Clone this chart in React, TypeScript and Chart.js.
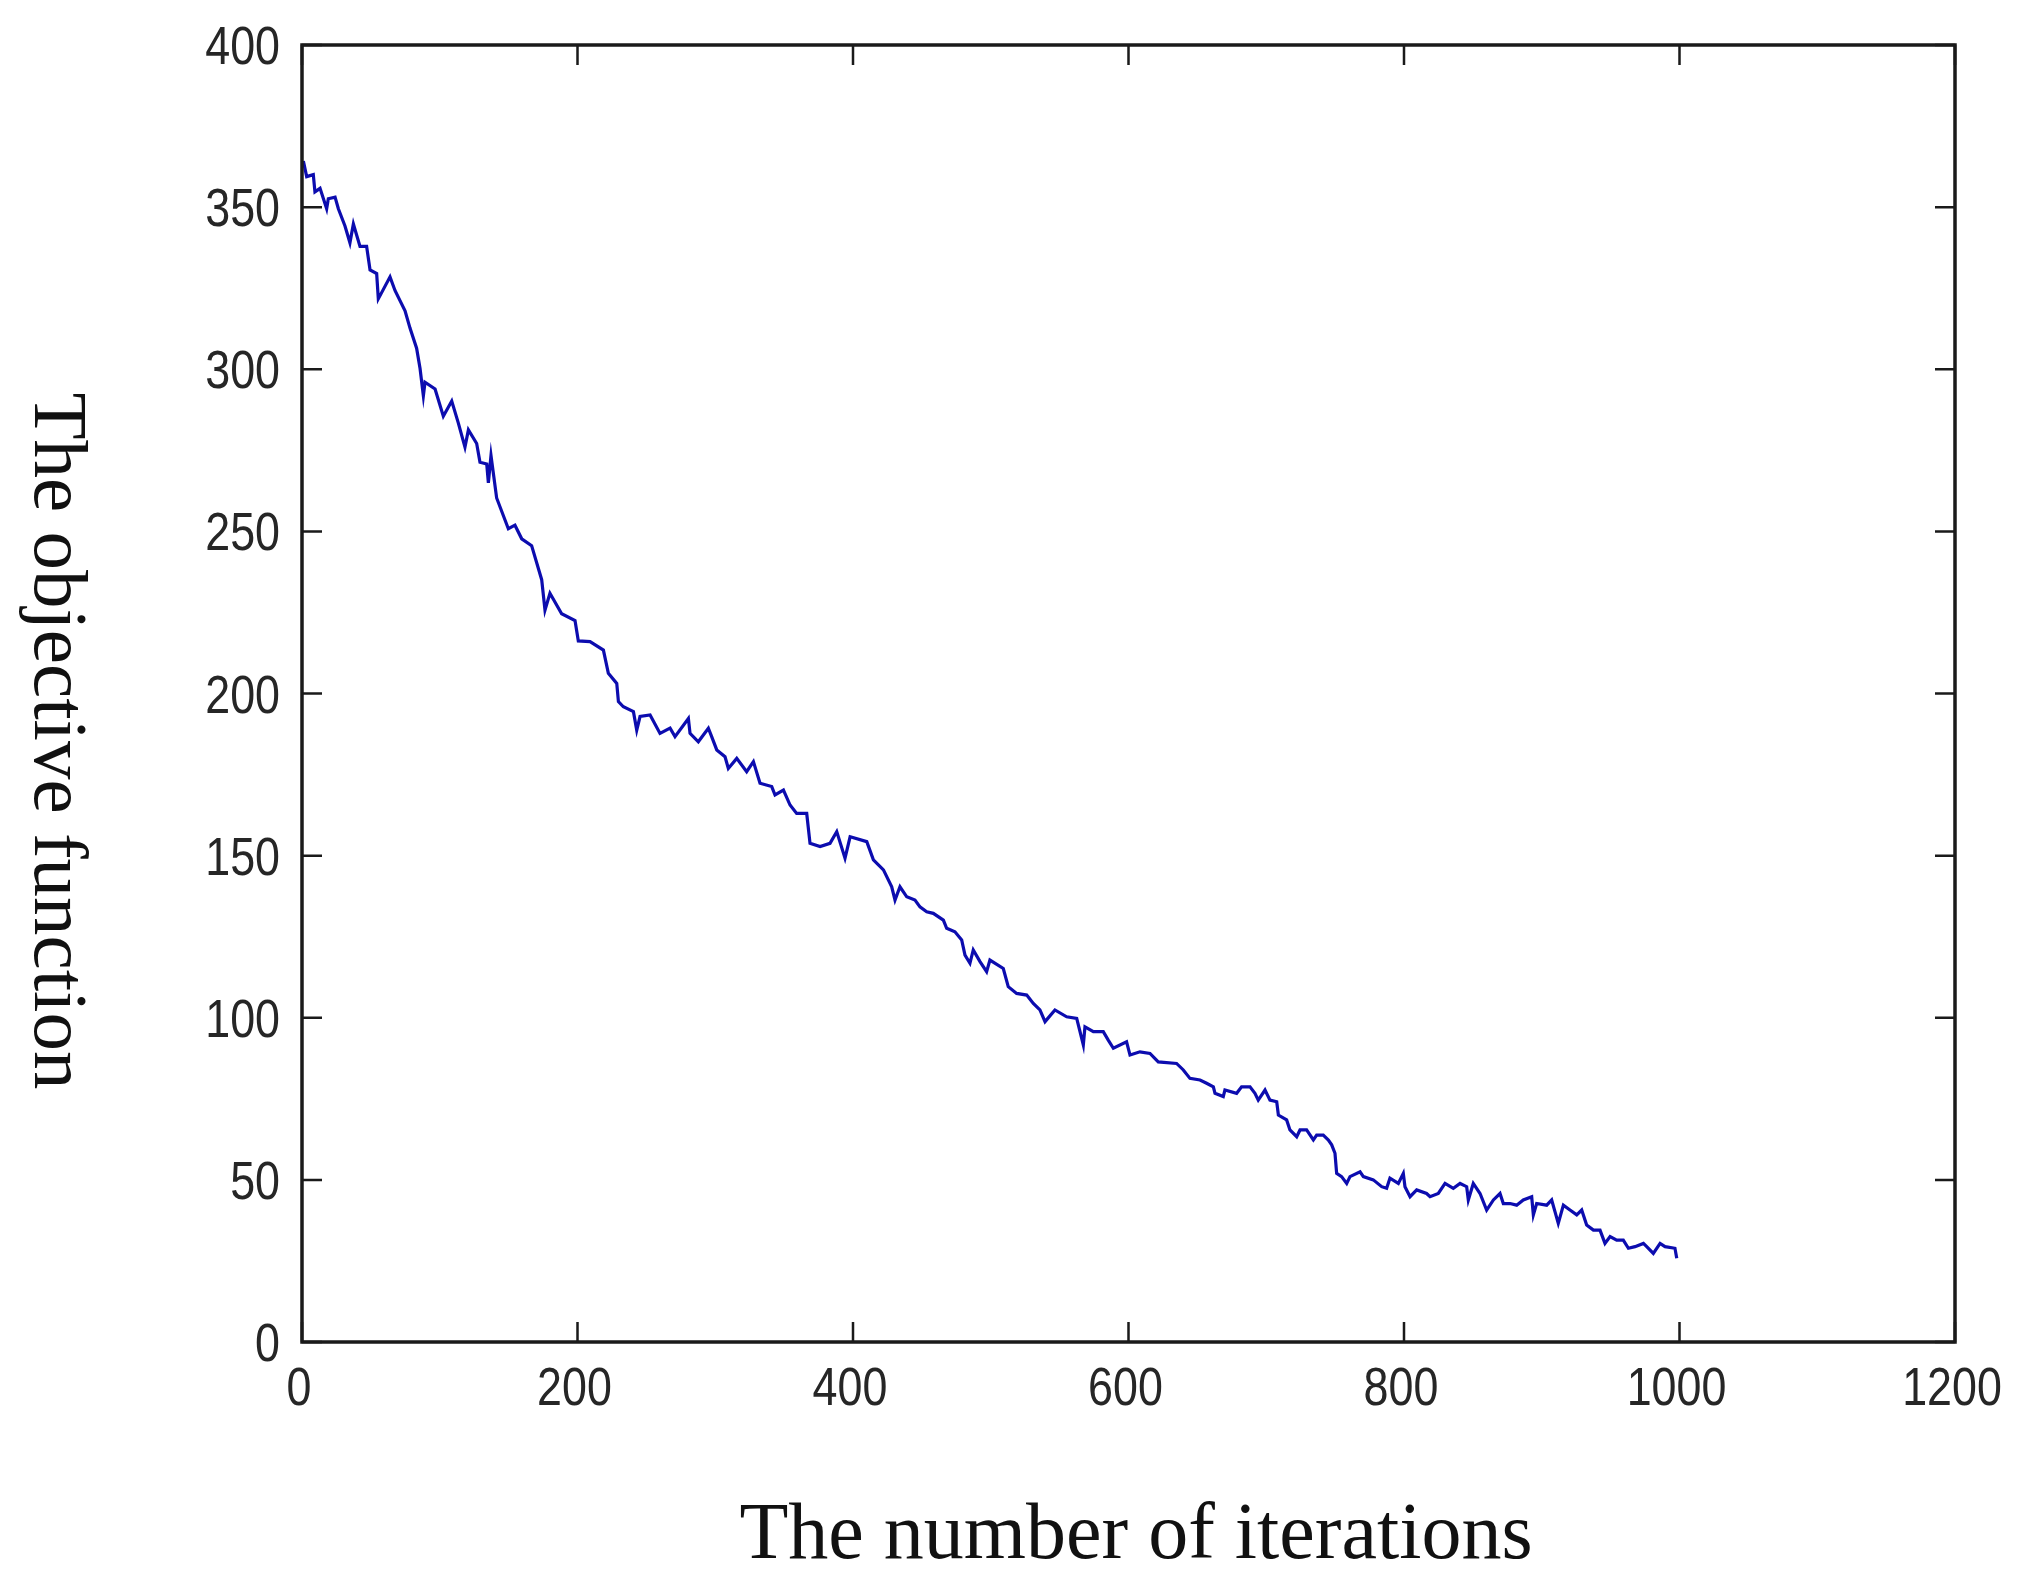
import React, { useEffect, useRef } from "react";
import { Chart, registerables } from "chart.js";

Chart.register(...registerables);

const iterations = [
  1.0, 3.4, 8.2, 9.4, 13.1, 17.9, 19.1, 24.0, 26.4, 31.2, 34.8, 37.3, 42.1, 46.9, 49.4, 54.2, 55.4, 63.9, 67.5, 74.8,
  78.4, 83.2, 85.7, 88.1, 89.3, 96.6, 102.6, 108.7, 113.5, 118.3, 120.8, 126.8, 129.2, 134.1, 135.3, 137.2, 141.3, 149.8,
  154.6, 159.5, 166.7, 174.0, 176.4, 180.0, 188.5, 198.2, 200.6,
  209.1, 218.8, 222.4, 228.5, 229.7, 233.3, 240.6, 243.0, 245.4, 252.7, 259.9, 267.2, 270.8, 280.5, 281.7, 287.7, 295.0,
  297.4, 301.1, 307.1, 309.5, 315.6, 322.8, 327.7, 332.5, 341.0, 343.4, 349.5, 354.3, 359.1, 366.4, 368.8, 376.1, 383.3,
  388.2, 394.2, 397.9, 410.0, 414.8, 422.1, 428.1, 430.5,
  434.1, 439.0, 445.0, 448.6, 453.5, 458.3, 465.6, 468.0, 474.0, 478.9, 481.3, 484.9, 487.3, 492.2, 497.0, 499.4, 509.1,
  512.7, 518.8, 526.1, 530.9, 535.7, 539.4, 546.6, 555.1, 562.4, 567.2, 568.4, 574.5, 581.7, 585.3, 589.0, 598.6, 601.1,
  608.3, 615.6, 621.6, 634.9, 639.8, 644.6,
  651.9, 656.7, 661.6, 662.8, 668.8, 670.0, 678.5, 682.1, 688.2, 691.8, 694.2, 699.1, 702.7, 707.6, 708.8, 714.8, 717.2,
  722.1, 724.5, 729.3, 734.2, 736.6, 741.4, 745.1, 747.5, 749.9, 751.1, 754.7, 758.4, 760.8, 768.1, 770.5, 777.7, 783.8,
  787.4, 789.8, 795.9, 799.5, 800.7, 804.4, 809.2, 816.4, 818.9, 824.9, 829.8, 835.8, 840.7, 845.5, 846.7, 850.3, 855.2,
  860.0, 864.9,
  869.7, 872.1, 877.0, 881.8, 886.6, 892.7, 893.9, 896.3, 903.6, 907.2, 909.6, 912.0, 915.7, 920.5, 925.4, 929.0, 932.6,
  937.5, 942.3, 945.9, 949.6, 954.4, 959.2, 962.9, 967.7, 973.8, 976.2, 981.0, 985.9, 989.5, 996.7, 998.0,
];

const objective = [
  364.2, 359.4, 360.0, 354.7, 355.8, 349.5, 352.6, 353.1, 349.5, 344.2, 339.0, 344.8, 337.9, 337.9, 330.6, 329.5, 321.7,
  328.5, 324.3, 318.0, 312.7, 306.5, 300.2, 291.8, 296.0, 293.9, 285.5, 290.2, 283.4, 276.0, 281.3, 277.1, 271.3, 270.8,
  265.0, 273.4, 260.3, 250.8, 251.9, 247.7, 245.6, 235.1, 225.7, 230.9, 224.6, 222.5, 216.2,
  216.0, 213.4, 206.2, 203.1, 197.5, 195.9, 194.4, 188.7, 192.9, 193.4, 187.7, 189.3, 186.7, 192.3, 187.7, 185.1, 189.3,
  186.7, 182.6, 180.5, 176.9, 180.0, 175.9, 179.0, 172.3, 171.3, 168.7, 170.2, 165.6, 163.0, 163.0, 153.8, 152.8, 153.8,
  157.4, 149.2, 155.8, 154.3, 148.7, 145.6, 140.4, 136.3,
  140.4, 137.3, 136.3, 134.2, 132.7, 132.2, 130.1, 127.6, 126.5, 124.0, 119.3, 116.8, 120.9, 117.3, 114.2, 117.8, 115.2,
  109.6, 107.5, 107.0, 104.4, 102.4, 98.8, 102.4, 100.3, 99.8, 91.6, 97.2, 95.7, 95.7, 93.1, 90.6, 92.6, 88.5,
  89.5, 89.0, 86.4, 85.9, 83.9, 81.3,
  80.8, 79.8, 78.7, 76.7, 75.7, 77.7, 76.7, 78.7, 78.7, 76.7, 74.6, 77.7, 74.6, 74.1, 70.0, 68.5, 65.4,
  63.3, 65.4, 65.4, 62.3, 63.8, 63.8, 62.3, 60.8, 58.2, 52.0, 51.0, 48.9, 51.0, 52.5, 51.0, 50.0, 47.9,
  47.4, 50.5, 48.9, 52.0, 47.9, 44.8, 46.9, 45.8, 44.8, 45.8, 48.9, 47.4, 48.9, 47.9, 43.8, 48.9, 45.8,
  40.7, 43.8,
  45.8, 42.7, 42.7, 42.2, 43.8, 44.8, 39.2, 42.7, 42.2, 43.8, 40.2, 36.6, 42.2, 40.7, 39.2, 40.7, 36.1,
  34.5, 34.5, 30.4, 32.5, 31.4, 31.4, 28.9, 29.4, 30.4, 29.4, 27.3, 30.4, 29.4, 28.9, 25.8,
];

const xTickValues = [0, 200, 400, 600, 800, 1000, 1200];
const yTickValues = [0, 50, 100, 150, 200, 250, 300, 350, 400];
const xTickLabels = ["0", "200", "400", "600", "800", "1000", "1200"];
const yTickLabels = ["0", "50", "100", "150", "200", "250", "300", "350", "400"];
const xTitle = "The number of iterations";
const yTitle = "The objective function";

const W = 2022;
const H = 1586;
const TICK_FONT = '"Liberation Sans", Arial, sans-serif';
const TITLE_FONT = '"Liberation Serif", "DejaVu Serif", serif';

export default function App() {
  const ref = useRef<HTMLCanvasElement | null>(null);

  useEffect(() => {
    document.body.style.margin = "0";
    const canvas = ref.current;
    if (!canvas) return;

    const framePlugin = {
      id: "matlabFrame",
      afterDatasetsDraw(chart: any) {
        const { ctx, chartArea, scales } = chart;
        const { left, right, top, bottom } = chartArea;
        const tl = 20;
        ctx.save();
        ctx.strokeStyle = "#1a1a1a";
        ctx.lineWidth = 3.5;
        ctx.beginPath();
        ctx.rect(left, top, right - left, bottom - top);
        ctx.stroke();
        ctx.lineWidth = 2.5;
        ctx.beginPath();
        for (const v of xTickValues) {
          const px = scales.x.getPixelForValue(v);
          ctx.moveTo(px, bottom);
          ctx.lineTo(px, bottom - tl);
          ctx.moveTo(px, top);
          ctx.lineTo(px, top + tl);
        }
        for (const v of yTickValues) {
          const py = scales.y.getPixelForValue(v);
          ctx.moveTo(left, py);
          ctx.lineTo(left + tl, py);
          ctx.moveTo(right, py);
          ctx.lineTo(right - tl, py);
        }
        ctx.stroke();

        // tick labels (condensed sans, MATLAB-like)
        ctx.fillStyle = "#262626";
        ctx.font = `54px ${TICK_FONT}`;
        ctx.textBaseline = "alphabetic";
        const sx = 0.83;
        xTickValues.forEach((v, i) => {
          const px = scales.x.getPixelForValue(v) - 3;
          ctx.save();
          ctx.translate(px, 1405);
          ctx.scale(sx, 1);
          ctx.textAlign = "center";
          ctx.fillText(xTickLabels[i], 0, 0);
          ctx.restore();
        });
        yTickValues.forEach((v, i) => {
          const py = scales.y.getPixelForValue(v);
          ctx.save();
          ctx.translate(280, py + 19);
          ctx.scale(sx, 1);
          ctx.textAlign = "right";
          ctx.fillText(yTickLabels[i], 0, 0);
          ctx.restore();
        });

        // axis titles
        ctx.fillStyle = "#111111";
        ctx.textAlign = "center";
        ctx.textBaseline = "alphabetic";
        ctx.font = `80px ${TITLE_FONT}`;
        ctx.fillText(xTitle, 1136, 1558);

        ctx.font = `77px ${TITLE_FONT}`;
        ctx.translate(35, 741);
        ctx.rotate(Math.PI / 2);
        ctx.fillText(yTitle, 0, 0);
        ctx.restore();
      },
    };

    const chart = new Chart(canvas, {
      type: "line",
      data: {
        datasets: [
          {
            data: iterations.map((x, i) => ({ x, y: objective[i] })),
            borderColor: "rgb(12,12,175)",
            borderWidth: 3.2,
            pointRadius: 0,
            tension: 0,
            fill: false,
          },
        ],
      },
      options: {
        animation: false,
        responsive: false,
        layout: { padding: { left: 0, right: 67, top: 45, bottom: 0 } },
        plugins: { legend: { display: false }, tooltip: { enabled: false } },
        scales: {
          x: {
            type: "linear",
            min: 0,
            max: 1200,
            afterBuildTicks: (s: any) => {
              s.ticks = xTickValues.map((value) => ({ value }));
            },
            afterFit: (s: any) => {
              s.height = 244;
            },
            grid: { display: false, drawTicks: false },
            border: { display: false },
            ticks: { display: false },
          },
          y: {
            type: "linear",
            min: 0,
            max: 400,
            afterBuildTicks: (s: any) => {
              s.ticks = yTickValues.map((value) => ({ value }));
            },
            afterFit: (s: any) => {
              s.width = 302;
            },
            grid: { display: false, drawTicks: false },
            border: { display: false },
            ticks: { display: false },
          },
        },
      },
      plugins: [framePlugin],
    } as any);

    return () => chart.destroy();
  }, []);

  return (
    <div style={{ width: W, height: H, background: "#ffffff" }}>
      <canvas ref={ref} width={W} height={H} style={{ width: W, height: H, display: "block" }} />
    </div>
  );
}
